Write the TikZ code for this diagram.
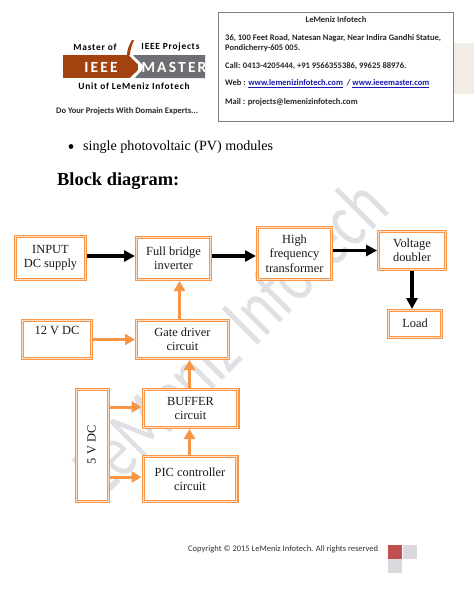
\documentclass[tikz,border=0pt]{standalone}
\usepackage{fontspec}
\setmainfont{Liberation Serif}
\newfontfamily\calib{Carlito}
\usetikzlibrary{arrows.meta}
\definecolor{boxor}{HTML}{F79646}
\definecolor{rust}{HTML}{A2430F}
\definecolor{logogray}{HTML}{6E6F72}
\definecolor{wm}{HTML}{E0E0E4}
\definecolor{beige}{HTML}{F1ECE6}
\definecolor{linkblue}{HTML}{1A1AB0}
\definecolor{cred}{HTML}{C0504D}
\definecolor{cgray}{HTML}{D9D9DE}
\tikzset{
  blockbox/.style={draw=boxor,line width=1.3pt,double=boxor!30,double distance=0.8pt,fill=white,outer sep=1.7pt,inner sep=0pt,align=center,font=\fontsize{12.4}{14.3}\selectfont,text=black!90},
  blk/.style={draw=black,line width=3.2pt,-{Triangle[length=11pt,width=11pt]}},
  ora/.style={draw=boxor,line width=3pt,-{Triangle[length=10pt,width=11pt]}},
  hdr/.style={font=\calib\bfseries\fontsize{8.5}{9}\selectfont,anchor=west,inner sep=0pt,text=black!85},
  logot/.style={font=\calib\bfseries\fontsize{9.4}{10}\selectfont,inner sep=0pt,text=black},
  logow/.style={font=\calib\bfseries\fontsize{15.5}{16}\selectfont,inner sep=0pt,text=white}
}
\newcommand{\ul}[1]{\underline{\smash{#1}}}
\begin{document}
\begin{tikzpicture}[x=1pt,y=-1pt]
\useasboundingbox (0,0) rectangle (474,613);
\fill[white] (0,0) rectangle (474,613);
% watermark and margin tint
\fill[beige] (453,43) rectangle (474,94);
\node[rotate=45,anchor=base,text=wm,font=\calib\fontsize{78}{80}\selectfont,inner sep=0pt] (water) at (248,355) {\scalebox{0.745}[1]{LeMeniz Infotech}};
% header box
\node[draw=black!50,line width=0.7pt,fill=white,minimum width=235pt,minimum height=109pt,inner sep=0pt,outer sep=0pt] (hbox) at (336,66.5) {};
\node[hdr,anchor=center] (h0) at (336,20) {LeMeniz Infotech};
\node[hdr] (h1) at (225,38) {36, 100 Feet Road, Natesan Nagar, Near Indira Gandhi Statue,};
\node[hdr] (h2) at (225,48) {Pondicherry-605 005.};
\node[hdr] (h3) at (225,66) {Call: 0413-4205444, +91 9566355386, 99625 88976.};
\node[hdr] (h4) at (225,84) {Web : \textcolor{linkblue}{\ul{www.lemenizinfotech.com}}\ \ / \textcolor{linkblue}{\ul{www.ieeemaster.com}}};
\node[hdr] (h5) at (225,102) {Mail : projects@lemenizinfotech.com};
% logo
\fill[rust] (63,55) rectangle (138,78);
\fill[logogray] (133,55) .. controls (136,60) and (143,63) .. (143,67) .. controls (143,71) and (137,74) .. (135,78) -- (205,78) -- (205,55) -- cycle;
\fill[white] (129,55) .. controls (132,60) and (139,63) .. (139,67) .. controls (139,71) and (133,74) .. (130,78) -- (135,78) .. controls (137,74) and (143,71) .. (143,67) .. controls (143,63) and (136,60) .. (133,55) -- cycle;
\fill[rust] (132,40) .. controls (129,45) and (127,50) .. (127,55) -- (130,55) .. controls (130,50) and (132,45) .. (134,40) -- cycle;
\node[logot] (lm) at (95,47) {\addfontfeatures{LetterSpace=8}Master of};
\node[logot] (lp) at (170.5,47) {\addfontfeatures{LetterSpace=8}IEEE Projects};
\node[logow] (li) at (101,67) {\addfontfeatures{LetterSpace=14}IEEE};
\node[logow] (ls) at (174,67) {\addfontfeatures{LetterSpace=14}MASTER};
\node[logot] (lu) at (134,86) {\addfontfeatures{LetterSpace=8}Unit of LeMeniz Infotech};
\node[hdr] (tag) at (56,111) {Do Your Projects With Domain Experts...};
% body text
\node[font=\fontsize{14.1}{16}\selectfont,inner sep=0pt,anchor=west] (bul) at (83,147) {single photovoltaic (PV) modules};
\fill[black] (71,146.5) circle (2.4pt);
\node[font=\bfseries\fontsize{18.4}{20}\selectfont,inner sep=0pt,anchor=west] (head) at (57,181) {Block diagram:};
% blocks
\node[blockbox,minimum width=69.6pt,minimum height=42.6pt] (input) at (50.5,258) {INPUT\\DC supply};
\node[blockbox,minimum width=73.6pt,minimum height=41.6pt] (full) at (173.5,258.5) {Full bridge\\inverter};
\node[blockbox,minimum width=73.6pt,minimum height=51.6pt] (hf) at (294.5,253.5) {High\\frequency\\transformer};
\node[blockbox,minimum width=66.6pt,minimum height=37.6pt] (volt) at (412,250.5) {Voltage\\doubler};
\node[blockbox,minimum width=52.6pt,minimum height=26.6pt] (load) at (415,324) {\raisebox{2pt}{Load}};
\node[blockbox,minimum width=68.6pt,minimum height=37.6pt] (dc12) at (57,339.5) {12 V DC\\\strut};
\node[blockbox,minimum width=91.6pt,minimum height=37.6pt] (gate) at (182.5,339.5) {Gate driver\\circuit};
\node[blockbox,minimum width=31.6pt,minimum height=111.6pt] (dc5) at (92.5,445.5) {};
\node[rotate=90,inner sep=0pt,font=\fontsize{12.4}{14.3}\selectfont,text=black!90] (dc5t) at (91.5,445) {5 V DC};
\node[blockbox,minimum width=94.6pt,minimum height=37.6pt] (buf) at (190.5,408.5) {BUFFER\\circuit};
\node[blockbox,minimum width=93.6pt,minimum height=44.6pt] (pic) at (190,479) {PIC controller\\circuit};
% connectors
\draw[blk] (input.east |- 0,256) -- (full.west |- 0,256);
\draw[blk] (full.east |- 0,256) -- (hf.west |- 0,256);
\draw[blk] (hf.east |- volt.west) -- (volt.west);
\draw[blk] (volt.south -| 412,0) -- (load.north -| 412,0);
\draw[ora] (dc12.east) -- (gate.west);
\draw[ora] (gate.north -| 179.5,0) -- (full.south -| 179.5,0);
\draw[ora] (buf.north -| 189.5,0) -- (gate.south -| 189.5,0);
\draw[ora] (pic.north -| 189.5,0) -- (buf.south -| 189.5,0);
\draw[ora] (dc5.east |- 0,407) -- (buf.west |- 0,407);
\draw[ora] (dc5.east |- 0,477) -- (pic.west |- 0,477);
% footer
\node[font=\calib\fontsize{8.5}{9}\selectfont,inner sep=0pt,anchor=west,text=black!80] (copy) at (188,549.5) {Copyright © 2015 LeMeniz Infotech. All rights reserved};
\fill[cred] (388,545) rectangle (402,559);
\fill[cgray] (403,545) rectangle (417,559);
\fill[cgray] (388,559) rectangle (402,573);
\end{tikzpicture}
\end{document}
